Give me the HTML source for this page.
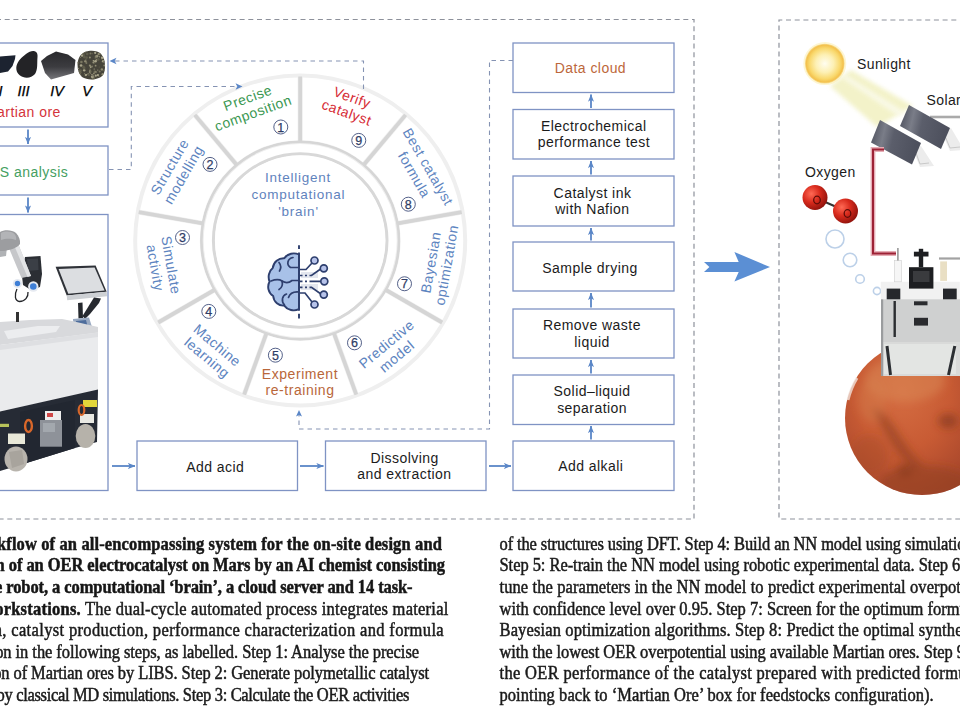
<!DOCTYPE html>
<html><head><meta charset="utf-8">
<style>
html,body{margin:0;padding:0;background:#fff;}
body{width:960px;height:720px;overflow:hidden;position:relative;font-family:"Liberation Sans",sans-serif;}
svg{position:absolute;left:0;top:0;}
.cap{position:absolute;font-family:"Liberation Serif",serif;font-size:16.5px;line-height:21.5px;color:#1c1c1c;white-space:nowrap;-webkit-text-stroke:0.45px #1a1a1a;color:#1a1a1a;transform:scaleY(1.09);transform-origin:0 16.3px;}
.cap b{-webkit-text-stroke:0.45px #161616;color:#161616;}
.cap b{font-weight:bold;}
</style></head><body>
<svg width="960" height="720" viewBox="0 0 960 720" font-family="Liberation Sans, sans-serif">
<defs>
<filter id="soft" x="-30%" y="-30%" width="160%" height="160%"><feGaussianBlur stdDeviation="0.7"/></filter>
<filter id="softu" filterUnits="userSpaceOnUse" x="0" y="0" width="960" height="720"><feGaussianBlur stdDeviation="0.7"/></filter>
<filter id="blur1"><feGaussianBlur stdDeviation="0.6"/></filter>
<filter id="blur2" x="-20%" y="-20%" width="140%" height="140%"><feGaussianBlur stdDeviation="2"/></filter>
<filter id="blur3" x="-30%" y="-30%" width="160%" height="160%"><feGaussianBlur stdDeviation="4"/></filter>
<clipPath id="marsclip"><circle cx="922" cy="418" r="77"/></clipPath>
<marker id="ah" viewBox="0 0 10 8" refX="9.5" refY="4" markerWidth="7.5" markerHeight="6" orient="auto-start-reverse" markerUnits="userSpaceOnUse" preserveAspectRatio="none">
<path d="M0 0 L10 4 L0 8 L2.5 4 Z" fill="#5a86c7"/></marker>
<radialGradient id="sun" cx="0.5" cy="0.5" r="0.5">
<stop offset="0" stop-color="#fffdf0"/><stop offset="0.45" stop-color="#fdf0b4"/><stop offset="0.78" stop-color="#f9d86c"/><stop offset="0.93" stop-color="#f3c14e"/><stop offset="1" stop-color="#f8dc8c"/></radialGradient>
<radialGradient id="mars" cx="0.5" cy="0.3" r="0.75">
<stop offset="0" stop-color="#d56d42"/><stop offset="0.5" stop-color="#c85b34"/><stop offset="1" stop-color="#a4442a"/></radialGradient>
<radialGradient id="o2" cx="0.35" cy="0.35" r="0.7">
<stop offset="0" stop-color="#ff6a55"/><stop offset="0.5" stop-color="#d82a1c"/><stop offset="1" stop-color="#8e120c"/></radialGradient>
<linearGradient id="panel" x1="0" y1="0" x2="1" y2="0.2">
<stop offset="0" stop-color="#4c4f5d"/><stop offset="0.15" stop-color="#60636f"/><stop offset="0.3" stop-color="#7a7d88"/><stop offset="0.5" stop-color="#5b5e6b"/><stop offset="1" stop-color="#4d505d"/></linearGradient>
<linearGradient id="beam" x1="0" y1="0" x2="1" y2="1">
<stop offset="0" stop-color="#f4f2c4" stop-opacity="0.9"/><stop offset="1" stop-color="#f6f4d6" stop-opacity="0.6"/></linearGradient>
</defs>

<!-- outer dashed frames -->
<g fill="none" stroke="#8d919b" stroke-width="1.2" stroke-dasharray="5 3.7">
<path d="M-4 19.5 H694 V519 H-4"/>
<path d="M965 20 H779 V519 H965"/>
</g>

<!-- boxes -->
<g fill="none" stroke="#7f93c4" stroke-width="1.3">
<rect x="-10" y="43" width="118" height="84"/>
<rect x="-10" y="146" width="118" height="49"/>
<rect x="-10" y="214.5" width="118" height="276"/>
<rect x="137" y="441" width="160.5" height="49.5"/>
<rect x="325.5" y="441" width="160.5" height="49.5"/>
<rect x="513" y="441" width="161" height="49.5"/>
<rect x="513" y="43" width="161" height="49.5"/>
<rect x="513" y="109.5" width="161" height="49.5"/>
<rect x="513" y="176" width="161" height="50"/>
<rect x="513" y="242" width="161" height="49"/>
<rect x="513" y="309" width="161" height="49"/>
<rect x="513" y="375" width="161" height="49.5"/>
</g>

<!-- solid arrows -->
<g stroke="#5a86c7" stroke-width="1.8" fill="none" marker-end="url(#ah)">
<path d="M28 129.5 V144"/>
<path d="M28 197.5 V212.5"/>
<path d="M112 466 H135"/>
<path d="M300 466 H323.5"/>
<path d="M489 466 H511"/>
<path d="M591 439.5 V426"/>
<path d="M591 373.5 V360"/>
<path d="M591 307.5 V293"/>
<path d="M591 240.5 V228"/>
<path d="M591 174.5 V161"/>
<path d="M591 108 V94.5"/>
</g>

<!-- big arrow -->
<path d="M704 262 H738.7 L734.4 252 L770 267 L734.4 281.5 L738.7 272 H704 L709.4 267 Z" fill="#5b8fd4"/>

<!-- ring -->
<path d="M133.2 240.5 a167 167 0 1 0 334 0 a167 167 0 1 0 -334 0 Z M203.7 240.5 a96.5 96.5 0 1 0 193 0 a96.5 96.5 0 1 0 -193 0 Z" fill="#efefef" fill-rule="evenodd" filter="url(#soft)"/>
<circle cx="300.2" cy="240.5" r="98.8" fill="none" stroke="#d6d6d6" stroke-width="2.6" filter="url(#soft)"/>
<line x1="300.20" y1="141.50" x2="300.20" y2="76.50" stroke="#d5d5d5" stroke-width="3.8" filter="url(#softu)"/>
<line x1="363.84" y1="164.66" x2="405.62" y2="114.87" stroke="#d5d5d5" stroke-width="3.8" filter="url(#softu)"/>
<line x1="397.70" y1="223.31" x2="461.71" y2="212.02" stroke="#d5d5d5" stroke-width="3.8" filter="url(#softu)"/>
<line x1="385.94" y1="290.00" x2="442.23" y2="322.50" stroke="#d5d5d5" stroke-width="3.8" filter="url(#softu)"/>
<line x1="334.06" y1="333.53" x2="356.29" y2="394.61" stroke="#d5d5d5" stroke-width="3.8" filter="url(#softu)"/>
<line x1="266.34" y1="333.53" x2="244.11" y2="394.61" stroke="#d5d5d5" stroke-width="3.8" filter="url(#softu)"/>
<line x1="214.46" y1="290.00" x2="158.17" y2="322.50" stroke="#d5d5d5" stroke-width="3.8" filter="url(#softu)"/>
<line x1="202.70" y1="223.31" x2="138.69" y2="212.02" stroke="#d5d5d5" stroke-width="3.8" filter="url(#softu)"/>
<line x1="236.56" y1="164.66" x2="194.78" y2="114.87" stroke="#d5d5d5" stroke-width="3.8" filter="url(#softu)"/>
<path d="M302.70 77.52 A163.0 163.0 0 0 1 403.05 114.04 L362.74 162.08 A100.3 100.3 0 0 0 302.70 140.23 Z" fill="#fff"/>
<path d="M406.88 117.26 A163.0 163.0 0 0 1 460.27 209.74 L398.51 220.63 A100.3 100.3 0 0 0 366.57 165.30 Z" fill="#fff"/>
<path d="M461.14 214.66 A163.0 163.0 0 0 1 442.60 319.83 L388.29 288.47 A100.3 100.3 0 0 0 399.38 225.55 Z" fill="#fff"/>
<path d="M440.10 324.16 A163.0 163.0 0 0 1 358.29 392.80 L336.84 333.87 A100.3 100.3 0 0 0 385.79 292.80 Z" fill="#fff"/>
<path d="M353.59 394.51 A163.0 163.0 0 0 1 246.81 394.51 L268.26 335.58 A100.3 100.3 0 0 0 332.14 335.58 Z" fill="#fff"/>
<path d="M242.11 392.80 A163.0 163.0 0 0 1 160.30 324.16 L214.61 292.80 A100.3 100.3 0 0 0 263.56 333.87 Z" fill="#fff"/>
<path d="M157.80 319.83 A163.0 163.0 0 0 1 139.26 214.66 L201.02 225.55 A100.3 100.3 0 0 0 212.11 288.47 Z" fill="#fff"/>
<path d="M140.13 209.74 A163.0 163.0 0 0 1 193.52 117.26 L233.83 165.30 A100.3 100.3 0 0 0 201.89 220.63 Z" fill="#fff"/>
<path d="M197.35 114.04 A163.0 163.0 0 0 1 297.70 77.52 L297.70 140.23 A100.3 100.3 0 0 0 237.66 162.08 Z" fill="#fff"/>
<circle cx="300.2" cy="240.5" r="86.8" fill="#fff" stroke="#d8d8d8" stroke-width="3" filter="url(#soft)"/>
<circle cx="300.2" cy="240.5" r="85" fill="#fff"/>
<g transform="translate(349.40 105.25) rotate(20.0)" fill="#d62c36" font-size="14" letter-spacing="0.55" text-anchor="middle"><text x="0" y="-3.4">Verify</text><text x="0" y="12.6">catalyst</text></g>
<g transform="translate(358.75 140.40)"><circle r="7" fill="none" stroke="#4a5782" stroke-width="0.95"/><text x="0" y="4.5" font-size="12.5" fill="#2f3d66" stroke="#2f3d66" stroke-width="0.25" text-anchor="middle">9</text></g>
<g transform="translate(421.00 170.90) rotate(60.0)" fill="#5d84c0" font-size="14" letter-spacing="0.55" text-anchor="middle"><text x="0" y="-3.4">Best catalyst</text><text x="0" y="12.6">formula</text></g>
<g transform="translate(408.30 204.20)"><circle r="7" fill="none" stroke="#4a5782" stroke-width="0.95"/><text x="0" y="4.5" font-size="12.5" fill="#2f3d66" stroke="#2f3d66" stroke-width="0.25" text-anchor="middle">8</text></g>
<g transform="translate(439.00 263.70) rotate(-80.0)" fill="#5d84c0" font-size="14" letter-spacing="0.55" text-anchor="middle"><text x="0" y="-3.4">Bayesian</text><text x="0" y="12.6">optimization</text></g>
<g transform="translate(404.50 283.75)"><circle r="7" fill="none" stroke="#4a5782" stroke-width="0.95"/><text x="0" y="4.5" font-size="12.5" fill="#2f3d66" stroke="#2f3d66" stroke-width="0.25" text-anchor="middle">7</text></g>
<g transform="translate(391.80 350.40) rotate(-40.0)" fill="#5d84c0" font-size="14" letter-spacing="0.55" text-anchor="middle"><text x="0" y="-3.4">Predictive</text><text x="0" y="12.6">model</text></g>
<g transform="translate(354.50 342.80)"><circle r="7" fill="none" stroke="#4a5782" stroke-width="0.95"/><text x="0" y="4.5" font-size="12.5" fill="#2f3d66" stroke="#2f3d66" stroke-width="0.25" text-anchor="middle">6</text></g>
<g transform="translate(300.00 382.80) rotate(0.0)" fill="#b9673a" font-size="14" letter-spacing="0.55" text-anchor="middle"><text x="0" y="-3.4">Experiment</text><text x="0" y="12.6">re-training</text></g>
<g transform="translate(275.40 355.20)"><circle r="7" fill="none" stroke="#4a5782" stroke-width="0.95"/><text x="0" y="4.5" font-size="12.5" fill="#2f3d66" stroke="#2f3d66" stroke-width="0.25" text-anchor="middle">5</text></g>
<g transform="translate(212.00 351.70) rotate(40.0)" fill="#5d84c0" font-size="14" letter-spacing="0.55" text-anchor="middle"><text x="0" y="-3.4">Machine</text><text x="0" y="12.6">learning</text></g>
<g transform="translate(208.80 311.40)"><circle r="7" fill="none" stroke="#4a5782" stroke-width="0.95"/><text x="0" y="4.5" font-size="12.5" fill="#2f3d66" stroke="#2f3d66" stroke-width="0.25" text-anchor="middle">4</text></g>
<g transform="translate(162.90 266.60) rotate(80.0)" fill="#5d84c0" font-size="14" letter-spacing="0.55" text-anchor="middle"><text x="0" y="-3.4">Simulate</text><text x="0" y="12.6">activity</text></g>
<g transform="translate(182.50 237.50)"><circle r="7" fill="none" stroke="#4a5782" stroke-width="0.95"/><text x="0" y="4.5" font-size="12.5" fill="#2f3d66" stroke="#2f3d66" stroke-width="0.25" text-anchor="middle">3</text></g>
<g transform="translate(176.90 170.85) rotate(-60.0)" fill="#5d84c0" font-size="14" letter-spacing="0.55" text-anchor="middle"><text x="0" y="-3.4">Structure</text><text x="0" y="12.6">modelling</text></g>
<g transform="translate(210.00 164.40)"><circle r="7" fill="none" stroke="#4a5782" stroke-width="0.95"/><text x="0" y="4.5" font-size="12.5" fill="#2f3d66" stroke="#2f3d66" stroke-width="0.25" text-anchor="middle">2</text></g>
<g transform="translate(250.50 105.75) rotate(-20.0)" fill="#3b9852" font-size="14" letter-spacing="0.55" text-anchor="middle"><text x="0" y="-3.4">Precise</text><text x="0" y="12.6">composition</text></g>
<g transform="translate(280.80 127.00)"><circle r="7" fill="none" stroke="#4a5782" stroke-width="0.95"/><text x="0" y="4.5" font-size="12.5" fill="#2f3d66" stroke="#2f3d66" stroke-width="0.25" text-anchor="middle">1</text></g>

<!-- dashed connectors -->
<g fill="none" stroke="#8593b3" stroke-width="1.1" stroke-dasharray="4.5 4">
<path d="M109 169.5 H131.3 V86.5 H236"/>
<path d="M363.5 89 V61 H115"/>
<path d="M513 60.5 H489.5 V429 H299 V415"/>
</g>
<g fill="#5a86c7">
<path d="M242.5 86.5 L235.5 83.3 L237.3 86.5 L235.5 89.7 Z"/>
<path d="M109.5 61 L116.5 57.8 L114.7 61 L116.5 64.2 Z"/>
<path d="M299 410 L296 416.5 L299 415 L302 416.5 Z"/>
</g>

<!-- center text -->
<g fill="#5f83bd" font-size="13.5" letter-spacing="0.75" text-anchor="middle">
<text x="298" y="182.2">Intelligent</text>
<text x="298.3" y="199.3">computational</text>
<text x="298.5" y="216">'brain'</text>
</g>

<!-- brain icon -->
<g id="brain">
<g fill="#e3e6ee"><rect x="301" y="272" width="17" height="6"/><rect x="301" y="284" width="17" height="6"/></g>
<path d="M299 254.5 C294 252.3 287.5 253.3 284.3 258.3 C278.5 258 273.5 262 272.8 268 C268.8 271 267.6 277 269.6 281.5 C266.8 286.5 268.3 293 273.2 296 C273.6 302 279 306.2 284.2 305.6 C287.5 310.2 294 311.5 299 309.2 Z" fill="#a8c1e8" stroke="#2e3f6e" stroke-width="1.9" stroke-linejoin="round"/>
<g fill="none" stroke="#2e3f6e" stroke-width="1.7" stroke-linecap="round">
<path d="M293 257.5 C287.5 258.5 286 264.5 290.5 267.5 L299 267.5"/>
<path d="M279 262.5 C281 265 281 268.5 279.5 271"/>
<path d="M271 281 C275 279.5 279 279 282 281 C285 283 289 283 292 280.5 L299 280.5"/>
<path d="M282 281 C283 285 281.5 288 279 289.5"/>
<path d="M299 292 C294 291.5 290 293 288.5 297.5"/>
<path d="M284.5 305 C281 301 282 295.5 286.5 294"/>
</g>
<path d="M299 245.3 V249 M299 252.4 V310.8 M299 313.8 V318.5" stroke="#2e3f6e" stroke-width="1.9"/>
<g fill="none" stroke="#2e3f6e" stroke-width="1.7">
<path d="M300 269.5 H306 L312 263"/>
<path d="M300 275.5 H302.5 M305 275.5 H307 M309.5 275.5 H311.5 L320.6 269"/>
<path d="M300 281.3 H302.5 M305 281.3 H307 M309.5 281.3 H320.5"/>
<path d="M300 287.3 H302.5 M305 287.3 H307 M309.5 287.3 H311.5 L320.6 293.8"/>
<path d="M300 293 H305 L312 302"/>
</g>
<g fill="#b7c3ea" stroke="#2e3f6e" stroke-width="1.7">
<circle cx="314.5" cy="260.5" r="3.5"/><circle cx="323.8" cy="268.3" r="3.5"/><circle cx="324.3" cy="281.3" r="3.5"/><circle cx="323.8" cy="294.6" r="3.5"/><circle cx="314.5" cy="304.5" r="3.5"/>
</g>
</g>

<!-- box texts -->
<g font-size="14" letter-spacing="0.45" text-anchor="middle" fill="#1b1b1b">
<text x="215.3" y="471.5">Add acid</text>
<text x="404.6" y="462.5">Dissolving</text>
<text x="404.4" y="479">and extraction</text>
<text x="590.8" y="471">Add alkali</text>
<text x="590.4" y="72.5" fill="#bd673b">Data cloud</text>
<text x="593.75" y="131.3">Electrochemical</text>
<text x="593.9" y="147.3">performance test</text>
<text x="592.5" y="197.5">Catalyst ink</text>
<text x="592.4" y="214">with Nafion</text>
<text x="590" y="273">Sample drying</text>
<text x="591.9" y="330">Remove waste</text>
<text x="592" y="346.5">liquid</text>
<text x="592.1" y="396">Solid–liquid</text>
<text x="592.1" y="412.5">separation</text>
<text x="-15" y="116.5" text-anchor="start" fill="#d4343b">Martian ore</text>
<text x="-22.5" y="176.5" text-anchor="start" fill="#45a062">LIBS analysis</text>
</g>
<g font-size="14.5" font-style="italic" fill="#000" text-anchor="middle" stroke="#000" stroke-width="0.25">
<text x="-1.5" y="95.5">II</text>
<text x="23.5" y="95.5">III</text>
<text x="57" y="95.5">IV</text>
<text x="87" y="95.5">V</text>
</g>

<!-- rocks -->
<defs><linearGradient id="rk3" x1="0" y1="0" x2="0" y2="1"><stop offset="0" stop-color="#29292c"/><stop offset="0.55" stop-color="#3c3c40"/><stop offset="1" stop-color="#76767a"/></linearGradient>
<clipPath id="rk4c"><path d="M80 56 C84 50 96 49 101 54 C106 59 106 70 103 75 C99 80 88 81 82 77 C77 72 76 62 80 56 Z"/></clipPath></defs>
<path d="M-4 57 L6 56 L15.5 55.3 L15 59 L12.5 66 L8 71.5 L0 73 L-4 73 Z" fill="#1c2330"/>
<path d="M33 51 C36 51 38 53 37.5 57 C37 62 38 70 35 74 C32 77.5 27 78.5 23 77 C18 75 15.5 71 16.5 66 C17.5 61 22 57 26 54 C28.5 52 31 51 33 51 Z" fill="#232326"/>
<path d="M56 51.5 L68 54.5 L75.5 60 L74 73 L51 79.4 L45 73 L41 61 L47 56 Z" fill="url(#rk3)"/>
<g clip-path="url(#rk4c)"><rect x="76" y="49" width="31" height="33" fill="#46443a"/><circle cx="83.7" cy="66.3" r="0.9" fill="#5f5d4b"/><circle cx="94.5" cy="52.0" r="0.6" fill="#5f5d4b"/><circle cx="84.3" cy="57.0" r="1.4" fill="#5f5d4b"/><circle cx="92.1" cy="66.5" r="0.9" fill="#7a7761"/><circle cx="83.5" cy="54.5" r="1.3" fill="#5f5d4b"/><circle cx="97.8" cy="70.1" r="0.7" fill="#8f8b72"/><circle cx="85.4" cy="50.9" r="1.3" fill="#5f5d4b"/><circle cx="93.7" cy="77.6" r="0.9" fill="#5f5d4b"/><circle cx="88.1" cy="74.0" r="1.0" fill="#7a7761"/><circle cx="101.6" cy="52.9" r="0.7" fill="#7a7761"/><circle cx="84.2" cy="70.2" r="1.2" fill="#a9a58a"/><circle cx="88.8" cy="75.0" r="1.1" fill="#5f5d4b"/><circle cx="93.4" cy="77.1" r="1.1" fill="#8f8b72"/><circle cx="101.0" cy="79.7" r="1.1" fill="#7a7761"/><circle cx="96.6" cy="59.8" r="1.0" fill="#8f8b72"/><circle cx="97.0" cy="56.3" r="1.3" fill="#a9a58a"/><circle cx="85.0" cy="51.9" r="1.3" fill="#5f5d4b"/><circle cx="79.5" cy="74.0" r="0.9" fill="#7a7761"/><circle cx="77.6" cy="62.8" r="0.9" fill="#8f8b72"/><circle cx="78.2" cy="68.4" r="0.6" fill="#a9a58a"/><circle cx="92.4" cy="77.7" r="0.8" fill="#7a7761"/><circle cx="105.0" cy="59.3" r="0.7" fill="#8f8b72"/><circle cx="103.6" cy="79.1" r="0.8" fill="#a9a58a"/><circle cx="81.4" cy="51.3" r="1.3" fill="#a9a58a"/><circle cx="87.1" cy="54.1" r="1.3" fill="#5f5d4b"/><circle cx="89.9" cy="65.6" r="1.1" fill="#8f8b72"/><circle cx="94.4" cy="78.2" r="1.0" fill="#5f5d4b"/><circle cx="94.8" cy="71.5" r="1.3" fill="#5f5d4b"/><circle cx="104.4" cy="65.6" r="1.0" fill="#8f8b72"/><circle cx="99.1" cy="79.6" r="0.9" fill="#5f5d4b"/><circle cx="94.2" cy="69.0" r="0.6" fill="#a9a58a"/><circle cx="90.1" cy="70.4" r="0.9" fill="#a9a58a"/><circle cx="97.7" cy="50.7" r="0.6" fill="#8f8b72"/><circle cx="104.0" cy="57.5" r="1.0" fill="#a9a58a"/><circle cx="82.0" cy="55.6" r="1.2" fill="#a9a58a"/><circle cx="85.4" cy="61.3" r="1.2" fill="#8f8b72"/><circle cx="104.2" cy="70.5" r="0.7" fill="#7a7761"/><circle cx="95.3" cy="58.1" r="0.9" fill="#5f5d4b"/><circle cx="95.2" cy="52.9" r="1.1" fill="#a9a58a"/><circle cx="95.9" cy="56.7" r="1.2" fill="#7a7761"/><circle cx="79.2" cy="72.3" r="0.8" fill="#5f5d4b"/><circle cx="84.6" cy="73.6" r="0.6" fill="#7a7761"/><circle cx="85.8" cy="75.1" r="1.1" fill="#a9a58a"/><circle cx="86.5" cy="74.8" r="0.7" fill="#a9a58a"/><circle cx="93.5" cy="62.6" r="1.0" fill="#a9a58a"/><circle cx="90.0" cy="69.0" r="0.8" fill="#5f5d4b"/><circle cx="78.0" cy="62.4" r="0.8" fill="#5f5d4b"/><circle cx="103.4" cy="76.4" r="1.4" fill="#5f5d4b"/><circle cx="92.6" cy="79.6" r="1.2" fill="#8f8b72"/><circle cx="97.9" cy="75.1" r="1.1" fill="#a9a58a"/><circle cx="92.2" cy="76.7" r="1.3" fill="#a9a58a"/><circle cx="80.4" cy="57.3" r="0.6" fill="#7a7761"/><circle cx="102.1" cy="77.0" r="1.1" fill="#8f8b72"/><circle cx="90.5" cy="53.6" r="1.0" fill="#7a7761"/><circle cx="95.6" cy="65.7" r="0.9" fill="#8f8b72"/><circle cx="86.6" cy="57.6" r="1.3" fill="#5f5d4b"/><circle cx="99.7" cy="51.8" r="0.8" fill="#8f8b72"/><circle cx="92.0" cy="74.5" r="0.7" fill="#a9a58a"/><circle cx="102.8" cy="74.2" r="1.3" fill="#8f8b72"/><circle cx="90.7" cy="67.1" r="0.9" fill="#a9a58a"/><circle cx="84.0" cy="68.5" r="1.0" fill="#8f8b72"/><circle cx="90.2" cy="73.3" r="0.6" fill="#8f8b72"/><circle cx="98.7" cy="51.4" r="0.6" fill="#5f5d4b"/><circle cx="104.3" cy="75.6" r="0.7" fill="#5f5d4b"/><circle cx="85.8" cy="59.4" r="0.9" fill="#5f5d4b"/><circle cx="93.4" cy="60.8" r="0.8" fill="#a9a58a"/><circle cx="89.0" cy="53.8" r="0.6" fill="#5f5d4b"/><circle cx="99.3" cy="67.0" r="0.6" fill="#5f5d4b"/><circle cx="93.9" cy="73.5" r="0.9" fill="#8f8b72"/><circle cx="94.4" cy="62.9" r="0.9" fill="#5f5d4b"/><circle cx="98.3" cy="59.4" r="1.4" fill="#5f5d4b"/><circle cx="89.9" cy="57.4" r="1.0" fill="#8f8b72"/><circle cx="99.5" cy="56.7" r="0.7" fill="#8f8b72"/><circle cx="103.2" cy="61.2" r="1.3" fill="#a9a58a"/><circle cx="80.4" cy="70.7" r="1.4" fill="#5f5d4b"/><circle cx="95.7" cy="72.0" r="1.1" fill="#8f8b72"/><circle cx="99.7" cy="71.5" r="1.0" fill="#7a7761"/><circle cx="98.7" cy="51.3" r="0.7" fill="#8f8b72"/><circle cx="95.5" cy="61.3" r="1.3" fill="#a9a58a"/><circle cx="100.6" cy="53.6" r="1.3" fill="#5f5d4b"/><circle cx="100.4" cy="78.6" r="1.1" fill="#8f8b72"/><circle cx="78.0" cy="73.0" r="1.0" fill="#7a7761"/><circle cx="80.0" cy="72.5" r="1.3" fill="#8f8b72"/><circle cx="92.4" cy="76.1" r="0.7" fill="#8f8b72"/><circle cx="83.8" cy="55.4" r="0.8" fill="#5f5d4b"/><circle cx="84.1" cy="68.0" r="1.4" fill="#5f5d4b"/><circle cx="104.1" cy="61.3" r="0.8" fill="#5f5d4b"/><circle cx="100.6" cy="79.0" r="0.9" fill="#5f5d4b"/><circle cx="81.4" cy="62.0" r="1.3" fill="#7a7761"/><circle cx="79.7" cy="72.4" r="1.3" fill="#5f5d4b"/><circle cx="93.4" cy="75.7" r="0.7" fill="#7a7761"/><circle cx="81.1" cy="65.5" r="1.3" fill="#a9a58a"/><circle cx="95.8" cy="75.7" r="1.1" fill="#a9a58a"/><circle cx="101.9" cy="59.2" r="0.8" fill="#5f5d4b"/><circle cx="82.6" cy="67.1" r="0.8" fill="#5f5d4b"/><circle cx="98.7" cy="54.3" r="1.4" fill="#5f5d4b"/><circle cx="96.6" cy="56.2" r="1.1" fill="#8f8b72"/><circle cx="90.5" cy="71.6" r="1.3" fill="#5f5d4b"/><circle cx="98.9" cy="76.5" r="0.6" fill="#7a7761"/><circle cx="101.9" cy="69.4" r="1.2" fill="#8f8b72"/><circle cx="103.8" cy="75.6" r="0.8" fill="#7a7761"/><circle cx="98.7" cy="54.1" r="1.1" fill="#8f8b72"/><circle cx="102.2" cy="57.7" r="1.3" fill="#a9a58a"/><circle cx="82.1" cy="52.7" r="1.2" fill="#8f8b72"/><circle cx="79.6" cy="75.0" r="0.8" fill="#a9a58a"/><circle cx="89.7" cy="72.0" r="0.9" fill="#8f8b72"/><circle cx="86.4" cy="63.1" r="1.0" fill="#7a7761"/><circle cx="95.0" cy="72.3" r="1.0" fill="#7a7761"/><circle cx="92.2" cy="53.6" r="0.8" fill="#5f5d4b"/><circle cx="80.2" cy="76.6" r="1.3" fill="#8f8b72"/></g>
<!-- robot -->
<g id="robot">
<!-- arm -->
<path d="M0 246 L7 247 L6 256 L0 257 Z" fill="#b0b2b5"/>
<path d="M25 257 L40.5 256 L42 274 L40 287 L31 290 L23 285 L22 276 Z" fill="#2b2e34"/>
<path d="M27 259 L38 258.5 L38.5 270 L28 271 Z" fill="#3b3f46"/>
<path d="M8.5 247 L18 243.5 L31 276 L21.5 278 Z" fill="#c6c7ca"/>
<path d="M14 245 L18 243.5 L31 276 L27.5 277 Z" fill="#e3e4e6"/>
<path d="M0 232 C4 229.5 12 229.5 16 233 C19 236 20.5 240 20 244 C17 248 10 250 4 251 L0 251 Z" fill="#9c9da0"/>
<path d="M1 233 C5 231 11 231 14.5 234 C16 236 16.5 238 16 240 C11 238 5 238.5 1 240 Z" fill="#b3b4b7"/>
<circle cx="17.5" cy="283.5" r="4.6" fill="#e6eaf1"/>
<circle cx="33.3" cy="286.5" r="5.2" fill="#e6eaf1"/>
<circle cx="17.5" cy="283.5" r="2.7" fill="#3f7fd6"/>
<circle cx="33.3" cy="286.5" r="3.3" fill="#3f7fd6"/>
<path d="M17 289 C14 295 15 301 19.5 301.5 C25 301.5 28.5 297 28 292" fill="none" stroke="#24262a" stroke-width="1.3"/>
<!-- tablet -->
<path d="M55.6 266.7 L95.6 265.6 L106.7 291.7 L66.7 295.6 Z" fill="#2f3238"/>
<path d="M58.6 268.9 L94.6 267.6 L104.6 290.4 L68.3 293.8 Z" fill="#dcdee1"/>
<path d="M66.7 295.6 L106.7 291.7 L107 296.3 L67.2 300.2 Z" fill="#cdd0d4"/>
<path d="M78 303 L82.5 302.5 L83 318 L78.5 318.5 Z" fill="#25282d"/>
<path d="M94 297.5 L101 298.5 L99 303 L90 314 L85 319 L82.5 316 Z" fill="#272a30"/>
<path d="M73 319 L89 317.5 L93 330 L74 332 Z" fill="#9aaac2"/>
<path d="M76 321 L86 320 L88 328 L77 329 Z" fill="#4e6d9c"/>
<!-- top surface -->
<path d="M0 322 L30 320 L62 319 L72 321 L98 327 L98 333 L0 345 Z" fill="#d8d9dc"/>
<path d="M4 331 L38 326 L60 326 L56 332 L8 339 Z" fill="#ecedef"/>
<rect x="16" y="312" width="3" height="10" fill="#333"/>
<!-- cabinet front -->
<path d="M0 345 L98 332.5 L98 390 L0 411.5 Z" fill="#eaebed"/>
<path d="M0 345 L98 332.5 L98 337 L0 350 Z" fill="#dedfe2"/>
<!-- base -->
<path d="M0 411.5 L98 389.5 L97 442 L75 448 L20 465 L0 471 Z" fill="#262b35"/>
<path d="M20 412 L75 400 L75 448 L20 465 Z" fill="#222731"/>
<path d="M0 423.8 H9 V427 H0 Z" fill="#b7c25a"/>
<rect x="40" y="420" width="22" height="26.7" fill="#8e9299"/>
<rect x="43" y="423" width="12" height="9" fill="#a3a8ae"/>
<rect x="45" y="411" width="16" height="9" fill="#eeeeee"/>
<rect x="47" y="413" width="6" height="4" fill="#d04848"/>
<rect x="83" y="400" width="14" height="7" fill="#e3d63a"/>
<rect x="80" y="414" width="14" height="9" fill="#e9e9e3"/>
<rect x="8" y="433.5" width="17" height="10.5" fill="#e8e8d8"/>
<ellipse cx="28.5" cy="426" rx="3.4" ry="6" fill="none" stroke="#d8672a" stroke-width="2.4"/>
<ellipse cx="81.5" cy="410" rx="2.8" ry="5" fill="none" stroke="#d8672a" stroke-width="2.2"/>
<ellipse cx="16" cy="459" rx="11.5" ry="12.5" fill="#b8b4ad"/>
<ellipse cx="85.5" cy="436" rx="9.8" ry="12" fill="#b6b2aa"/>
<path d="M9 452 L22 450 L24 464 L12 468 Z" fill="#9d9a93" opacity="0.6"/>
</g>

<!-- right panel: sun, panels, oxygen, device, Mars -->
<path d="M830 86 L851 70 L913 106 L877 127 Z" fill="#f1f0c0" opacity="0.85" filter="url(#blur2)"/>
<path d="M842 78 L846 75 L905 112 L898 116 Z" fill="#fbfbee" opacity="0.8" filter="url(#blur2)"/>
<circle cx="824.8" cy="63.6" r="21.5" fill="#fbeaa0" opacity="0.45"/>
<circle cx="824.8" cy="63.6" r="19.8" fill="url(#sun)"/>
<g font-size="14" letter-spacing="0.4" fill="#1b1b1b">
<text x="857" y="68.5">Sunlight</text>
<text x="926.5" y="105">Solar</text>
<text x="805" y="177">Oxygen</text>
</g>
<!-- stands -->
<path d="M913 150 L920 167 L934 166 L921 146 Z" fill="#ececec"/><path d="M916 153 L920 164 L929 163" fill="none" stroke="#c9c9c9" stroke-width="1"/>
<path d="M942 133 L950 151 L964 150 L951 128 Z" fill="#ececec"/><path d="M945 136 L950 148 L960 147" fill="none" stroke="#c9c9c9" stroke-width="1"/>
<path d="M930 117 H962" stroke="#aaaaaa" stroke-width="2.6"/>
<path d="M909 105 L950 128 L941 149 L900 126 Z" fill="url(#panel)"/>
<path d="M880 120 L921 143 L912 164.5 L871 142.5 Z" fill="url(#panel)"/>
<!-- red wire -->
<path d="M884 149.5 H873 V253.5 H896" fill="none" stroke="#e6aeb6" stroke-width="4.8"/>
<path d="M884 149.5 H873 V253.5 H896" fill="none" stroke="#9e2236" stroke-width="2"/>
<!-- oxygen -->
<path d="M815 197.5 L845.5 211" stroke="#333" stroke-width="2"/>
<circle cx="815" cy="197.5" r="12.5" fill="url(#o2)"/>
<circle cx="845.5" cy="211" r="12.5" fill="url(#o2)"/>
<ellipse cx="817" cy="200" rx="3.3" ry="3.8" fill="none" stroke="#5e0c08" stroke-width="1.3"/>
<ellipse cx="847.5" cy="213.5" rx="3.3" ry="3.8" fill="none" stroke="#5e0c08" stroke-width="1.3"/>
<g fill="none" stroke="#bcd0e8" stroke-width="1.6">
<circle cx="835" cy="239" r="9"/><circle cx="850" cy="260" r="6.8"/><circle cx="860" cy="279" r="4.3"/><circle cx="877" cy="291" r="3.6"/>
</g>
<!-- Mars -->
<g clip-path="url(#marsclip)">
<rect x="840" y="345" width="125" height="155" fill="url(#mars)"/>
<g filter="url(#blur3)">
<ellipse cx="905" cy="380" rx="40" ry="22" fill="#d98552" opacity="0.55"/>
<ellipse cx="872" cy="400" rx="14" ry="22" fill="#d7824f" opacity="0.4"/>
<path d="M872 408 C880 420 888 440 900 455 C908 465 918 470 925 468 C915 458 905 445 896 430 C888 418 880 410 872 408 Z" fill="#8a3a1c" opacity="0.6"/>
<ellipse cx="948" cy="421" rx="10" ry="7" fill="#7f3519" opacity="0.65"/>
<ellipse cx="925" cy="482" rx="45" ry="16" fill="#8f3f1e" opacity="0.55"/>
<ellipse cx="870" cy="455" rx="18" ry="20" fill="#a44a24" opacity="0.4"/>
<ellipse cx="905" cy="470" rx="8" ry="6" fill="#7c3318" opacity="0.5"/>
</g>
</g>
<path d="M857 378 A77 77 0 0 0 848 400" stroke="#f4ebe6" stroke-width="3" fill="none" opacity="0.75" filter="url(#softu)"/>
<!-- device -->
<rect x="881" y="299" width="79" height="77" fill="#d9dad9"/>
<rect x="881" y="299" width="79" height="43" fill="#cfd0d0"/>
<rect x="884" y="344" width="72" height="30" fill="#e3e5e3"/>
<path d="M887 346 L890.5 375 M954.8 346 L948.5 375" stroke="#2c2f33" stroke-width="3"/>
<rect x="881" y="299" width="2.2" height="77" fill="#9a9c9e"/>
<rect x="893.5" y="301" width="2.4" height="36" fill="#2b2d30"/>
<rect x="914" y="301.3" width="13.5" height="4" fill="#2a2b2e"/>
<rect x="914" y="317.8" width="14" height="7.8" fill="#2a2b2e"/>
<rect x="880.8" y="281.8" width="79" height="17.5" fill="#f1f1f1"/>
<rect x="886.7" y="288.6" width="13.6" height="10.7" fill="#26282c"/>
<rect x="943" y="288.6" width="13.7" height="10.7" fill="#26282c"/>
<rect x="909" y="267.2" width="24.4" height="21.4" fill="#1d1e21"/>
<rect x="913" y="271" width="16.5" height="11" fill="#3a3b3e"/>
<rect x="918.8" y="248.8" width="4.4" height="18.4" fill="#1d1e21"/>
<rect x="913.9" y="251.7" width="14.6" height="4.8" fill="#1d1e21"/>
<rect x="894.5" y="260.4" width="6.8" height="21.4" fill="#f6f6f6" stroke="#cfcfcf" stroke-width="0.6"/>
<rect x="897.2" y="248" width="1.4" height="12.5" fill="#8a8a8a"/>
<rect x="940.2" y="261.4" width="6.8" height="19.5" fill="#e9dfc4"/>
<path d="M939 258.5 H962" stroke="#a2a2a2" stroke-width="2.2"/>
</svg>

<div class="cap" style="left:-86.66px;top:533.70px;letter-spacing:0.122px"><b>Fig. 1 | Workflow <span class="a1">of</span> an all-encompassing system for the on-site design <span class="a2">and</span></b></div>
<div class="cap" style="left:-72.23px;top:555.30px;letter-spacing:-0.071px"><b>production <span class="a1">of</span> an OER electrocatalyst on Mars by an AI chemist <span class="a2">consisting</span></b></div>
<div class="cap" style="left:-74.73px;top:576.90px;letter-spacing:-0.088px"><b>of a mobile <span class="a1">robot,</span> a computational ‘brain’, a cloud server and 14 <span class="a2">task-</span></b></div>
<div class="cap" style="left:-75.44px;top:598.50px;letter-spacing:0.233px"><b>specific workstations.</b> <span class="a1">The</span> dual-cycle automated process integrates <span class="a2">material</span></div>
<div class="cap" style="left:-59.50px;top:620.10px;letter-spacing:0.350px">selection, <span class="a1">catalyst</span> production, performance characterization and <span class="a2">formula</span></div>
<div class="cap" style="left:-71.03px;top:641.70px;letter-spacing:-0.070px">optimization <span class="a1">in</span> the following steps, as labelled. Step 1: Analyse the <span class="a2">precise</span></div>
<div class="cap" style="left:-71.06px;top:663.30px;letter-spacing:-0.096px">composition <span class="a1">of</span> Martian ores by LIBS. Step 2: Generate polymetallic <span class="a2">catalyst</span></div>
<div class="cap" style="left:-68.11px;top:684.90px;letter-spacing:-0.325px">structures by <span class="a1">classical</span> MD simulations. Step 3: Calculate the OER <span class="a2">activities</span></div>
<div class="cap" style="left:499.50px;top:533.70px;letter-spacing:-0.117px"><span class="a1">of</span> the structures using DFT. Step 4: Build an NN model using <span class="a2">simulation</span> data.</div>
<div class="cap" style="left:499.50px;top:555.30px;letter-spacing:-0.059px"><span class="a1">Step</span> 5: Re-train the NN model using robotic experimental data. <span class="a2">Step</span> 6: Fine-</div>
<div class="cap" style="left:499.50px;top:576.90px;letter-spacing:0.091px"><span class="a1">tune</span> the parameters in the NN model to predict experimental <span class="a2">overpotentials</span></div>
<div class="cap" style="left:499.50px;top:598.50px;letter-spacing:0.007px"><span class="a1">with</span> confidence level over 0.95. Step 7: Screen for the optimum <span class="a2">formula</span> by</div>
<div class="cap" style="left:499.50px;top:620.10px;letter-spacing:0.132px"><span class="a1">Bayesian</span> optimization algorithms. Step 8: Predict the optimal <span class="a2">synthetic</span> formula</div>
<div class="cap" style="left:499.50px;top:641.70px;letter-spacing:-0.073px"><span class="a1">with</span> the lowest OER overpotential using available Martian ores. <span class="a2">Step</span> 9: Verify</div>
<div class="cap" style="left:499.50px;top:663.30px;letter-spacing:0.318px"><span class="a1">the</span> OER performance of the catalyst prepared with predicted <span class="a2">formula</span> (arrow</div>
<div class="cap" style="left:499.50px;top:684.90px;letter-spacing:0.052px"><span class="a1">pointing</span> back to ‘Martian Ore’ box for feedstocks <span class="a2">configuration).</span></div>
</body></html>
